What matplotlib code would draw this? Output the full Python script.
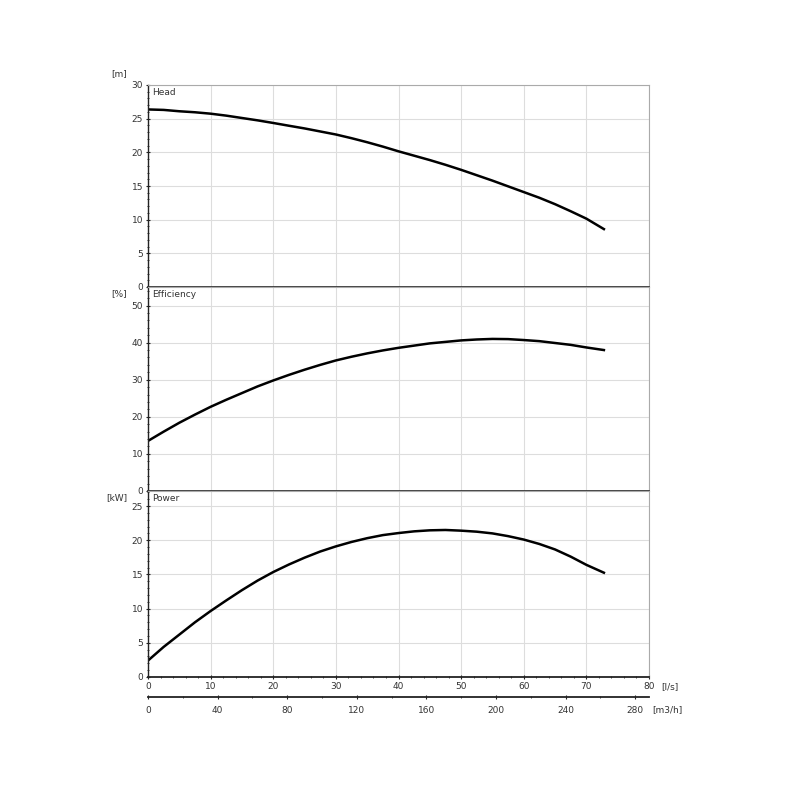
import matplotlib
matplotlib.use("Agg")
import matplotlib.pyplot as plt
from matplotlib.ticker import MultipleLocator

# flow in l/s
flow = [0, 2.5, 5, 7.5, 10, 12.5, 15, 17.5, 20, 22.5, 25, 27.5, 30, 32.5, 35,
        37.5, 40, 42.5, 45, 47.5, 50, 52.5, 55, 57.5, 60, 62.5, 65, 67.5, 70, 72.8]
head = [26.37, 26.3, 26.1, 25.95, 25.74, 25.45, 25.1, 24.75, 24.36, 23.95, 23.55,
        23.1, 22.65, 22.1, 21.5, 20.85, 20.15, 19.5, 18.85, 18.15, 17.4, 16.6,
        15.8, 14.95, 14.1, 13.25, 12.3, 11.25, 10.15, 8.6]
efficiency = [13.5, 16.0, 18.4, 20.6, 22.7, 24.6, 26.4, 28.2, 29.8, 31.3, 32.7,
              34.0, 35.2, 36.2, 37.1, 37.9, 38.6, 39.2, 39.8, 40.2, 40.6, 40.85,
              41.0, 40.95, 40.7, 40.4, 39.9, 39.4, 38.7, 38.0]
power = [2.4, 4.4, 6.2, 8.0, 9.65, 11.2, 12.7, 14.1, 15.35, 16.45, 17.45, 18.35,
         19.1, 19.75, 20.3, 20.75, 21.05, 21.3, 21.45, 21.5, 21.4, 21.25, 21.0,
         20.6, 20.1, 19.45, 18.65, 17.6, 16.4, 15.25]

titles = ["Head", "Efficiency", "Power"]
units = ["[m]", "[%]", "[kW]"]
ymax = [30, 55, 27.2]
ystep = [5, 10, 5]
m3h_ticks = [0, 40, 80, 120, 160, 200, 240, 280]

TXT = "#333333"
GRID = "#dddddd"
FS = 6.5

fig = plt.figure(figsize=(8, 8), dpi=100)
boxes = [(85, 287), (287, 491), (491, 677)]   # top/bottom pixel rows of the panels
left, width = 148 / 800, 501 / 800

axes = []
for i, vals in enumerate([head, efficiency, power]):
    top, bot = boxes[i]
    ax = fig.add_axes([left, (800 - bot) / 800, width, (bot - top) / 800])
    ax.plot(flow, vals, color="black", lw=1.8, solid_joinstyle="round")
    ax.set_xlim(0, 80)
    ax.set_ylim(0, ymax[i])
    ax.xaxis.set_major_locator(MultipleLocator(10))
    ax.xaxis.set_minor_locator(MultipleLocator(2))
    ax.yaxis.set_major_locator(MultipleLocator(ystep[i]))
    ax.yaxis.set_minor_locator(MultipleLocator(ystep[i] / 5))
    ax.grid(True, which="major", color=GRID, lw=0.8)
    ax.set_axisbelow(True)
    for s in ("top", "right"):
        ax.spines[s].set_color("#aaaaaa")
        ax.spines[s].set_linewidth(0.8)
    ax.spines["left"].set_color("#222222")
    ax.spines["left"].set_linewidth(1.0)
    ax.spines["bottom"].set_color("#222222")
    ax.spines["bottom"].set_linewidth(1.3)
    ax.tick_params(axis="both", which="major", labelsize=FS, labelcolor=TXT,
                   length=3, width=0.8, direction="inout", color="#222222", pad=2)
    ax.tick_params(axis="both", which="minor", length=2, width=0.6,
                   direction="inout", color="#222222")
    ax.text(0.008, 0.985, titles[i], transform=ax.transAxes, fontsize=FS,
            color=TXT, va="top", ha="left")
    axes.append(ax)

# unit labels
axes[0].annotate(units[0], (0, 1), xycoords="axes fraction", xytext=(-15, 8),
                 textcoords="offset points", fontsize=FS, color=TXT,
                 ha="right", va="center")
axes[1].annotate(units[1], (0, 1), xycoords="axes fraction", xytext=(-15, -4.5),
                 textcoords="offset points", fontsize=FS, color=TXT,
                 ha="right", va="center")
axes[2].annotate(units[2], (0, 1), xycoords="axes fraction", xytext=(-15, -4.5),
                 textcoords="offset points", fontsize=FS, color=TXT,
                 ha="right", va="center")

for ax in axes[:-1]:
    ax.tick_params(axis="x", which="both", labelbottom=False, length=0)
    ax.spines["bottom"].set_color("#333333")

axes[-1].annotate("[l/s]", (1, 0), xycoords="axes fraction", xytext=(9, -7),
                  textcoords="offset points", fontsize=FS, color=TXT,
                  ha="left", va="center")

# second flow scale in m3/h
ax2 = fig.add_axes([left, (800 - 697) / 800, width, 0.0001])
ax2.set_xlim(0, 80 * 3.6)
ax2.set_yticks([])
for s in ("top", "right", "left"):
    ax2.spines[s].set_visible(False)
ax2.spines["bottom"].set_color("#222222")
ax2.spines["bottom"].set_linewidth(1.3)
ax2.set_xticks(m3h_ticks)
ax2.set_xticklabels([str(t) for t in m3h_ticks])
ax2.xaxis.set_minor_locator(MultipleLocator(20))
ax2.tick_params(axis="x", which="major", labelsize=FS, labelcolor=TXT,
                length=3, width=0.8, direction="inout", color="#222222", pad=5)
ax2.tick_params(axis="x", which="minor", length=2, width=0.6,
                direction="inout", color="#222222")
ax2.annotate("[m3/h]", (1, 0), xycoords="axes fraction", xytext=(2, -9),
             textcoords="offset points", fontsize=FS, color=TXT,
             ha="left", va="center")

fig.savefig("out.png", dpi=100, facecolor="white")
